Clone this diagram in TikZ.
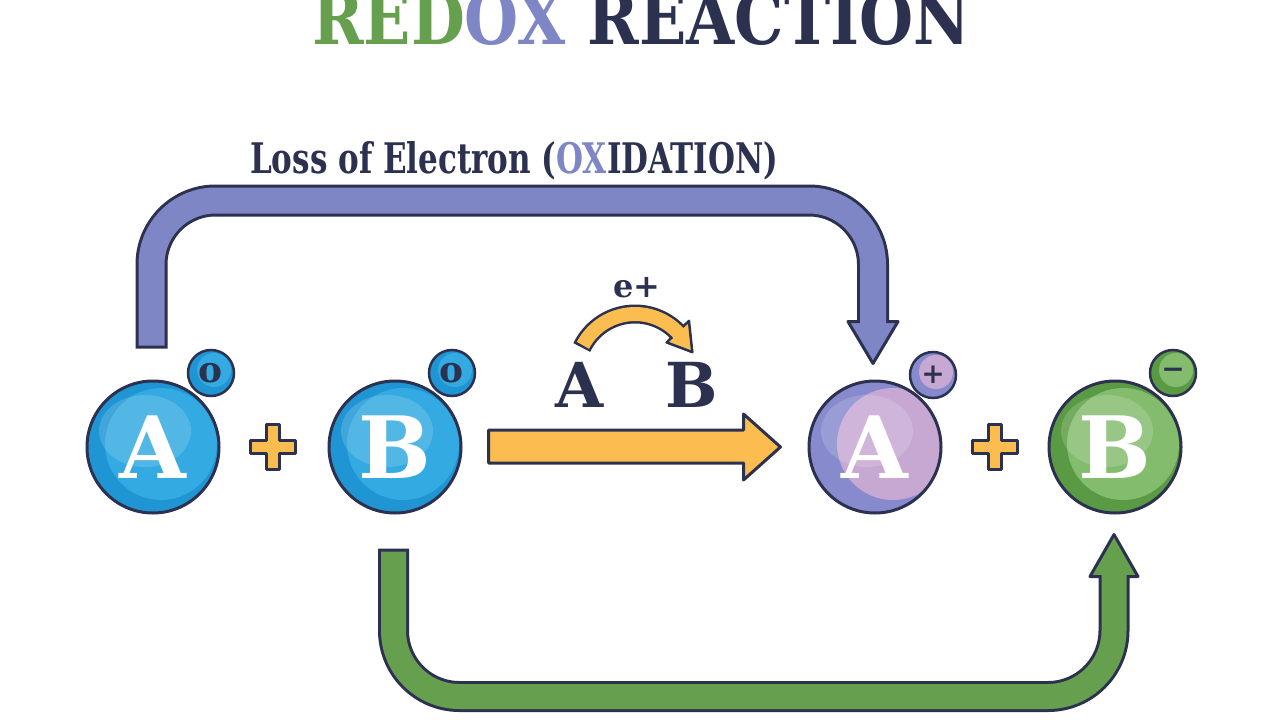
\documentclass[tikz,border=0pt]{standalone}
\usepackage{fontspec}
\setmainfont{DejaVu Serif}
\usetikzlibrary{calc}
\definecolor{navy}{HTML}{2C3150}
\definecolor{oxc}{HTML}{7F86C5}
\definecolor{redc}{HTML}{66A04F}
\definecolor{ylw}{HTML}{FBBD4F}
\definecolor{bluebase}{HTML}{1F95D4}
\definecolor{bluehl}{HTML}{33AAE2}
\definecolor{purbase}{HTML}{878BCD}
\definecolor{purhl}{HTML}{C6A8D3}
\definecolor{grnbase}{HTML}{5A9A44}
\definecolor{grnhl}{HTML}{84BC6E}
\tikzset{
  sphere/.style n args={3}{circle, minimum size=132pt, inner sep=0pt, fill=#1,
    draw=navy, line width=3pt, text=white,
    font=\fontsize{86}{86}\selectfont\bfseries,
    path picture={
      \fill[#2] ($(path picture bounding box.center)+(#3,-3)$) circle (56);
      \fill[white, opacity=0.16] ($(path picture bounding box.center)+(-8,-16)$) ellipse [x radius=46, y radius=36];
    }},
  charge/.style 2 args={circle, minimum size=46pt, inner sep=0pt, fill=#1,
    draw=navy, line width=2.5pt, text=navy,
    font=\fontsize{36}{36}\selectfont\bfseries,
    path picture={
      \fill[#2] ($(path picture bounding box.center)+(3,-3)$) circle (17);
    }},
  outline/.style={draw=navy, line width=3pt, line join=round},
  plusst/.style={fill=ylw, draw=navy, line width=2.5pt, line join=round},
  lbl/.style={inner sep=0pt, text=navy, font=\bfseries},
}
\newcommand\plusshape[1]{%
  \draw[plusst] ($(#1)+(-22.5,-6.5)$) -- ++(16,0) -- ++(0,-16) -- ++(13,0)
    -- ++(0,16) -- ++(16,0) -- ++(0,13) -- ++(-16,0) -- ++(0,16)
    -- ++(-13,0) -- ++(0,-16) -- ++(-16,0) -- cycle;}
\begin{document}
\begin{tikzpicture}[x=1pt,y=-1pt]
\useasboundingbox (0,0) rectangle (1280,720);
\fill[white] (0,0) rectangle (1280,720);
\clip (0,0) rectangle (1280,720);

% title
\node[anchor=base west, inner sep=0pt] (title) at (312,44)
  {\resizebox{658pt}{54pt}{\bfseries\textcolor{redc}{RED}\textcolor{oxc}{OX} \textcolor{navy}{REACTION}}};
\node[anchor=base west, inner sep=0pt, text=navy] (loss) at (250,173)
  {\resizebox{528pt}{32pt}{\bfseries Loss of Electron (\textcolor{oxc}{OX}IDATION)}};

% spheres
\node[sphere={bluebase}{bluehl}{8}] (A1) at (153,447) {A};
\node[sphere={bluebase}{bluehl}{8}] (B1) at (395,447) {B};
\node[sphere={purbase}{purhl}{18}] (A2) at (875,447) {A};
\node[sphere={grnbase}{grnhl}{8}] (B2) at (1115,447) {B};

\node[charge={bluebase}{bluehl}] (cA1) at (211,373) {o};
\node[charge={bluebase}{bluehl}] (cB1) at (452,373) {o};
\node[charge={purbase}{purhl}, font=\fontsize{28}{28}\selectfont\bfseries] (cA2) at (933,375) {+};
\node[charge={grnbase}{grnhl}, font=\fontsize{28}{28}\selectfont\bfseries] (cB2) at (1173,373) {−};

% plus signs
\coordinate (p1) at (273,447);
\coordinate (p2) at (995,447);
\plusshape{p1}
\plusshape{p2}

% big yellow arrow
\coordinate (ys) at ($(B1.east)+(26,0)$);
\coordinate (ye) at ($(A2.west)+(-27,0)$);
\draw[outline, fill=ylw] ($(ys)+(0,-17)$) -- ($(ye)+(-37,-17)$) -- ($(ye)+(-37,-33)$)
  -- (ye) -- ($(ye)+(-37,33)$) -- ($(ye)+(-37,16)$) -- ($(ys)+(0,16)$) -- cycle;

% A -> B with e+
\node[lbl, font=\fontsize{62}{62}\selectfont\bfseries, anchor=base] (la) at (580,407) {A};
\node[lbl, font=\fontsize{62}{62}\selectfont\bfseries, anchor=base] (lb) at (692,407) {B};
\node[lbl, font=\fontsize{32}{32}\selectfont\bfseries, anchor=base] (le) at (637,297) {e+};
\coordinate (ec) at (635,373);
\draw[navy, line width=19pt] ($(ec)+(205.6:59)$) arc[start angle=205.6, end angle=318, radius=59];
\draw[fill=ylw, draw=navy, line width=2.5pt, line join=round]
  ($(ec)+(316:44)$) -- ($(ec)+(340:61)$) -- ($(ec)+(316:75)$) -- cycle;
\draw[ylw, line width=14pt] ($(ec)+(208:59)$) arc[start angle=208, end angle=321, radius=59];

% oxidation arrow (purple)
\coordinate (os) at ($(A1.north)+(-1.5,-34)$);
\coordinate (ot) at ($(A2.north)+(-2,-16)$);
\draw[navy, line width=32pt, rounded corners=64] ($(os)+(0,3)$) -- ($(os)+(0,-145)$) -| ($(ot)+(0,-42)$);
\draw[fill=oxc, draw=navy, line width=3pt, line join=round]
  ($(ot)+(-25,-42)$) -- (ot) -- ($(ot)+(25,-42)$) -- cycle;
\draw[oxc, line width=26pt, rounded corners=64] (os) -- ($(os)+(0,-145)$) -| ($(ot)+(0,-37)$);

% reduction arrow (green)
\coordinate (gs) at ($(B1.south)+(-1.5,37)$);
\coordinate (gt) at ($(B2.south)+(-1,20)$);
\draw[navy, line width=31pt, rounded corners=66] ($(gs)+(0,-3)$) -- ($(gs)+(0,145)$) -| ($(gt)+(0,42)$);
\draw[fill=redc, draw=navy, line width=3pt, line join=round]
  ($(gt)+(-24,42)$) -- (gt) -- ($(gt)+(24,42)$) -- cycle;
\draw[redc, line width=25pt, rounded corners=66] (gs) -- ($(gs)+(0,145)$) -| ($(gt)+(0,37)$);
\end{tikzpicture}
\end{document}
